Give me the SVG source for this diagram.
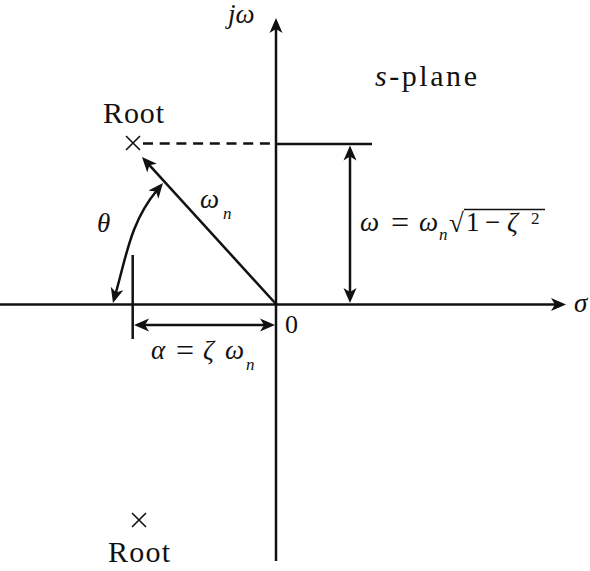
<svg xmlns="http://www.w3.org/2000/svg" width="590" height="571" viewBox="0 0 590 571">
<style>
  .ln { stroke:#111; stroke-width:2.5; fill:none; }
  .thin { stroke:#111; stroke-width:1.6; fill:none; }
  .t { font-family:"Liberation Serif","DejaVu Serif",serif; font-size:27px; fill:#111; }
  .i { font-style:italic; }
  .big { font-size:30px; }
  .eq { font-size:32px; }
  .zero { font-size:26px; }
  .sub { font-size:17px; font-style:italic; }
  .sup { font-size:17px; }
</style>
<defs>
  <marker id="ah" viewBox="0 -8 16 16" markerUnits="userSpaceOnUse" markerWidth="16" markerHeight="16" refX="5" refY="0" orient="auto-start-reverse">
    <path d="M15,0 L0,-6.5 L4,0 L0,6.5 Z" fill="#111"/>
  </marker>
</defs>
<rect width="590" height="571" fill="#fff"/>

<g id="connectors">
  <path id="jw-axis" class="ln" d="M276,561 V28" marker-end="url(#ah)"/>
  <path id="sigma-axis" class="ln" d="M0,304.5 H556" marker-end="url(#ah)"/>
  <path id="dash" class="ln" d="M143,143.5 H276" stroke-dasharray="10 6.7"/>
  <path id="top-line" class="ln" d="M276,144 H372"/>
  <path id="omega-dim" class="ln" d="M350,155.5 V293" marker-start="url(#ah)" marker-end="url(#ah)"/>
  <path id="alpha-tick" class="ln" d="M132.7,255 V339"/>
  <path id="alpha-dim" class="ln" d="M144,325 H265" marker-start="url(#ah)" marker-end="url(#ah)"/>
  <path id="wn-vector" class="ln" d="M276,304 L148.7,164.4" marker-end="url(#ah)"/>
  <path id="theta-arc" class="ln" d="M156.6,190.7 C131,221.5 126.5,255 115.7,293.4" marker-start="url(#ah)" marker-end="url(#ah)"/>
</g>

<g id="root-top">
  <path class="thin" d="M126,136 L140,150 M140,136 L126,150"/>
  <text class="t big" x="103" y="123" textLength="61">Root</text>
</g>

<g id="root-bottom">
  <path class="thin" d="M132,513 L146,527 M146,513 L132,527"/>
  <text class="t big" x="108" y="562" textLength="62">Root</text>
</g>

<g id="label-jw">
  <text class="t i" x="228" y="23">jω</text>
</g>

<g id="label-splane">
  <text class="t big" x="375" y="86" textLength="102"><tspan class="i">s</tspan>-plane</text>
</g>

<g id="label-sigma">
  <text class="t i" x="574" y="312">σ</text>
</g>

<g id="label-origin">
  <text class="t zero" x="285" y="333">0</text>
</g>

<g id="label-theta">
  <text class="t i" x="97" y="232">θ</text>
</g>

<g id="label-wn">
  <text class="t i" x="200" y="208">ω</text>
  <text class="t sub" x="223" y="219">n</text>
</g>

<g id="label-alpha">
  <text class="t i" x="151" y="359">α</text>
  <text class="t eq" x="176" y="361">=</text>
  <text class="t i" x="203" y="359">ζ</text>
  <text class="t i" x="225" y="359">ω</text>
  <text class="t sub" x="246" y="370">n</text>
</g>

<g id="label-omega">
  <text class="t i" x="360" y="231">ω</text>
  <text class="t eq" x="391" y="233">=</text>
  <text class="t i" x="419" y="231">ω</text>
  <text class="t sub" x="439" y="240">n</text>
  <text class="t" x="449" y="232">√</text>
  <path class="thin" d="M464,209.5 H545"/>
  <text class="t" x="466" y="231">1</text>
  <text class="t" x="485" y="231">−</text>
  <text class="t i" x="507" y="231">ζ</text>
  <text class="t sup" x="531" y="224">2</text>
</g>
</svg>
